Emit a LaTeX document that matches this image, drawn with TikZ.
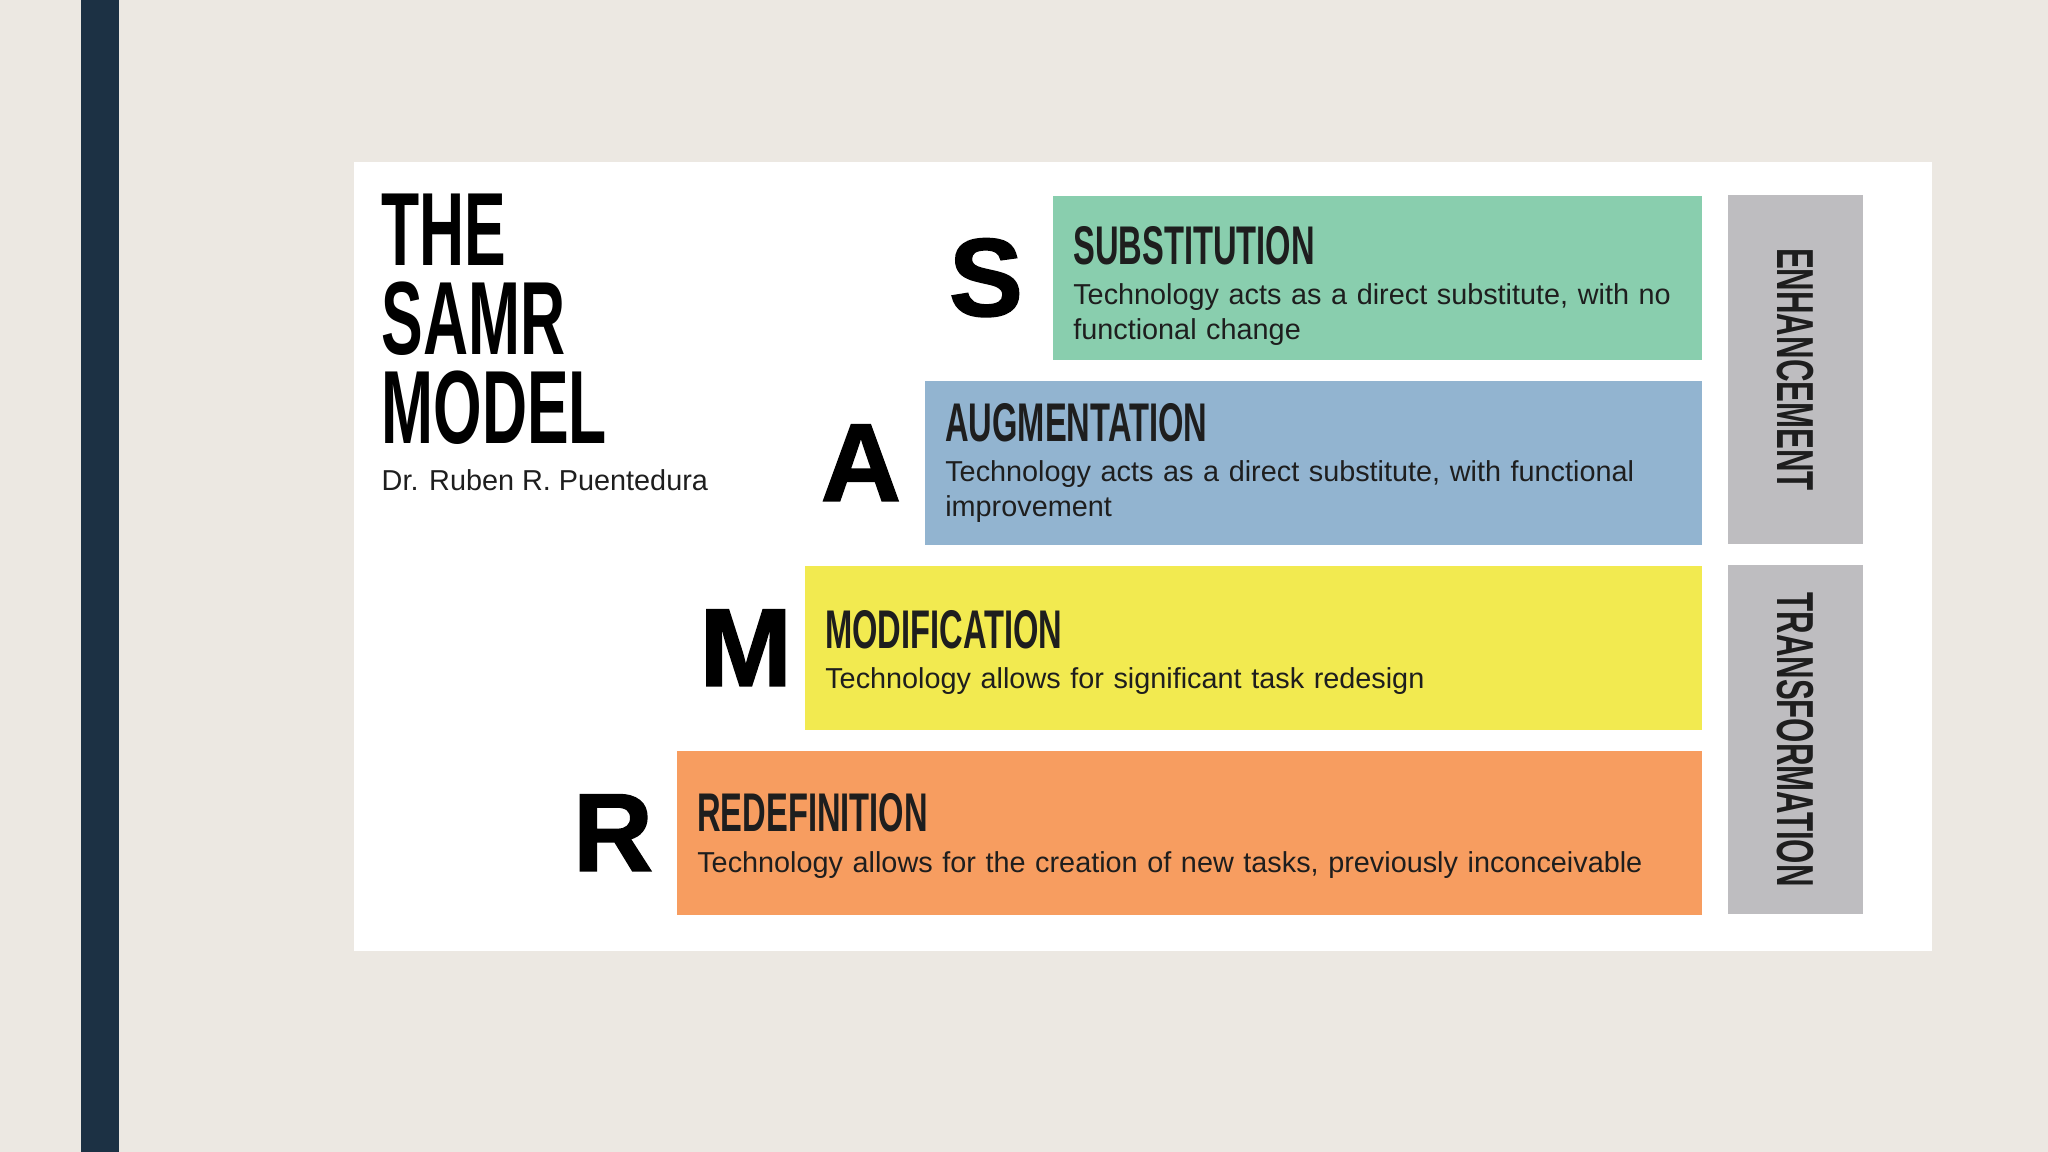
\documentclass[tikz,border=0pt]{standalone}
\usepackage{fontspec}
\setmainfont{Liberation Sans}
\newfontfamily\condfont[FakeStretch=0.6]{Liberation Sans}
\newfontfamily\letterfont[FakeBold=1.5]{Liberation Sans}
\usepackage{xcolor}
\usetikzlibrary{positioning}

\definecolor{pagebg}{RGB}{236,232,226}
\definecolor{sidebar}{RGB}{28,49,68}
\definecolor{subst}{RGB}{137,206,174}
\definecolor{augm}{RGB}{146,180,208}
\definecolor{modif}{RGB}{242,234,80}
\definecolor{redef}{RGB}{247,157,96}
\definecolor{bandgray}{RGB}{190,189,192}
\definecolor{ink}{RGB}{30,30,30}

% heading strut height, heading, description
\newcommand{\stagetext}[3]{{\condfont\bfseries\fontsize{15.5}{15.5}\selectfont\rule{0pt}{#1}#2}\\[1.5pt]#3}

\begin{document}
\begin{tikzpicture}[stage/.style={anchor=north east, minimum height=1.64cm, inner xsep=0.2cm, inner ysep=0pt, align=left, text=ink, font=\fontsize{8.2}{10}\selectfont}, letter/.style={inner sep=0pt, text=black, font=\letterfont\bfseries\fontsize{31.5}{31.5}\selectfont}, band/.style={fill=bandgray, rotate=-90, minimum width=3.49cm, minimum height=1.35cm, inner sep=0pt, text=ink, font=\condfont\bfseries\fontsize{14.8}{14.8}\selectfont}]
  % page, side bar and white panel
  \fill[pagebg] (0,0) rectangle (20.48,11.52);
  \fill[sidebar] (0.81,0) rectangle (1.19,11.52);
  \fill[white] (3.54,2.01) rectangle (19.32,9.90);

  % title
  \node[anchor=north west, inner sep=0pt, align=left, text=black, font=\condfont\bfseries\fontsize{29.6}{25.3}\selectfont] (title) at (3.81,9.59) {THE\\SAMR\\MODEL};
  \node[below=0.24cm of title.south west, anchor=north west, inner sep=0pt, text=ink, font=\fontsize{8.2}{10}\selectfont] (author) {Dr. Ruben R. Puentedura};

  % the four stages
  \node[stage, fill=subst, text width=6.09cm] (s) at (17.03,9.57) {\stagetext{15.6pt}{SUBSTITUTION}{Technology acts as a direct substitute, with no\\functional change}};
  \node[stage, fill=augm, text width=7.37cm] (a) at (17.03,7.72) {\stagetext{11pt}{AUGMENTATION}{Technology acts as a direct substitute, with functional\\improvement}};
  \node[stage, fill=modif, text width=8.57cm] (m) at (17.03,5.87) {\stagetext{13.4pt}{MODIFICATION}{Technology allows for significant task redesign}};
  \node[stage, fill=redef, text width=9.85cm] (r) at (17.03,4.02) {\stagetext{12.8pt}{REDEFINITION}{Technology allows for the creation of new tasks, previously inconceivable}};

  \node[letter, left=0.29cm of s] (ls) {S};
  \node[letter, left=0.23cm of a] (la) {A};
  \node[letter, left=0.12cm of m] (lm) {M};
  \node[letter, left=0.23cm of r] (lr) {R};

  % side bands
  \node[band] (enh) at (17.955,7.825) {ENHANCEMENT};
  \node[band] (trans) at (17.955,4.125) {TRANSFORMATION};
\end{tikzpicture}
\end{document}
